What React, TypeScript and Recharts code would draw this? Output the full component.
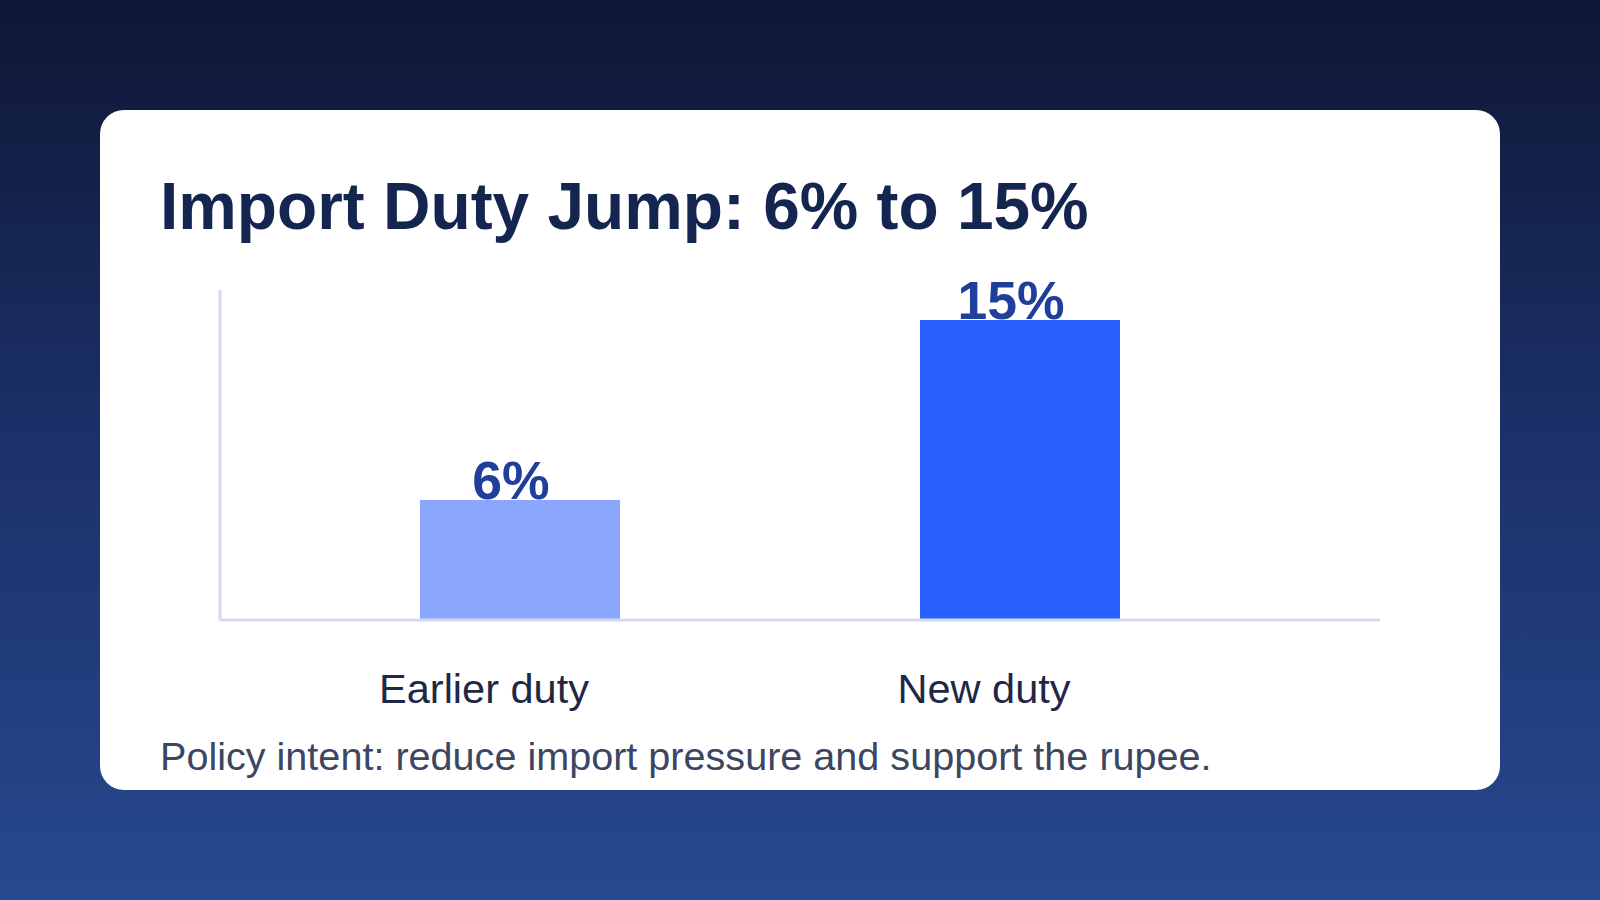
import { BarChart, Bar, XAxis, YAxis, Cell, LabelList } from "recharts";

const categories = ["Earlier duty", "New duty"];
const dutyRates = [6, 15];
const barColors = ["#8aa7fd", "#2961fe"];

const data = categories.map((name, i) => ({ name, rate: dutyRates[i] }));

const FONT = '"Liberation Sans", Arial, Helvetica, sans-serif';

export default function App() {
  return (
    <div
      style={{
        position: "relative",
        width: 1600,
        height: 900,
        background: "linear-gradient(180deg, #0e1734 0%, #1b2f66 45%, #27498f 100%)",
        fontFamily: FONT,
        overflow: "hidden",
      }}
    >
      <style>{`body{margin:0}`}</style>
      <div
        style={{
          position: "absolute",
          left: 100,
          top: 110,
          width: 1400,
          height: 680,
          background: "#ffffff",
          borderRadius: 24,
        }}
      >
        <div
          style={{
            position: "absolute",
            left: 60,
            top: 64,
            fontSize: 65.8,
            lineHeight: 1,
            fontWeight: 700,
            color: "#14254f",
            whiteSpace: "nowrap",
          }}
        >
          Import Duty Jump: 6% to 15%
        </div>

        <div style={{ position: "absolute", left: 0, top: 0 }}>
          <BarChart
            width={1400}
            height={680}
            data={data}
            margin={{ top: 180, right: 120, bottom: 70, left: 100 }}
          >
            <XAxis
              dataKey="name"
              height={100}
              padding={{ left: 50, right: 110 }}
              axisLine={{ stroke: "#d3dce8", strokeWidth: 3 }}
              tickLine={false}
              tickSize={0}
              tickMargin={54}
              tick={{ fontSize: 41.5, fill: "#1e2845", fontFamily: FONT, dx: -36 }}
            />
            <YAxis
              width={20}
              domain={[0, 16.5]}
              tick={false}
              tickLine={false}
              axisLine={{ stroke: "#d3dce8", strokeWidth: 3 }}
            />
            <Bar dataKey="rate" barSize={200} isAnimationActive={false}>
              {data.map((d, i) => (
                <Cell key={d.name} fill={barColors[i]} />
              ))}
              <LabelList
                dataKey="rate"
                position="top"
                offset={1}
                dx={-9}
                formatter={(v: number) => `${v}%`}
                style={{ fontSize: 53.5, fontWeight: 700, fill: "#1f3f9a", fontFamily: FONT }}
              />
            </Bar>
          </BarChart>
        </div>

        <div
          style={{
            position: "absolute",
            left: 60,
            top: 627,
            fontSize: 39.6,
            lineHeight: 1,
            color: "#3a4662",
            whiteSpace: "nowrap",
          }}
        >
          Policy intent: reduce import pressure and support the rupee.
        </div>
      </div>
    </div>
  );
}
